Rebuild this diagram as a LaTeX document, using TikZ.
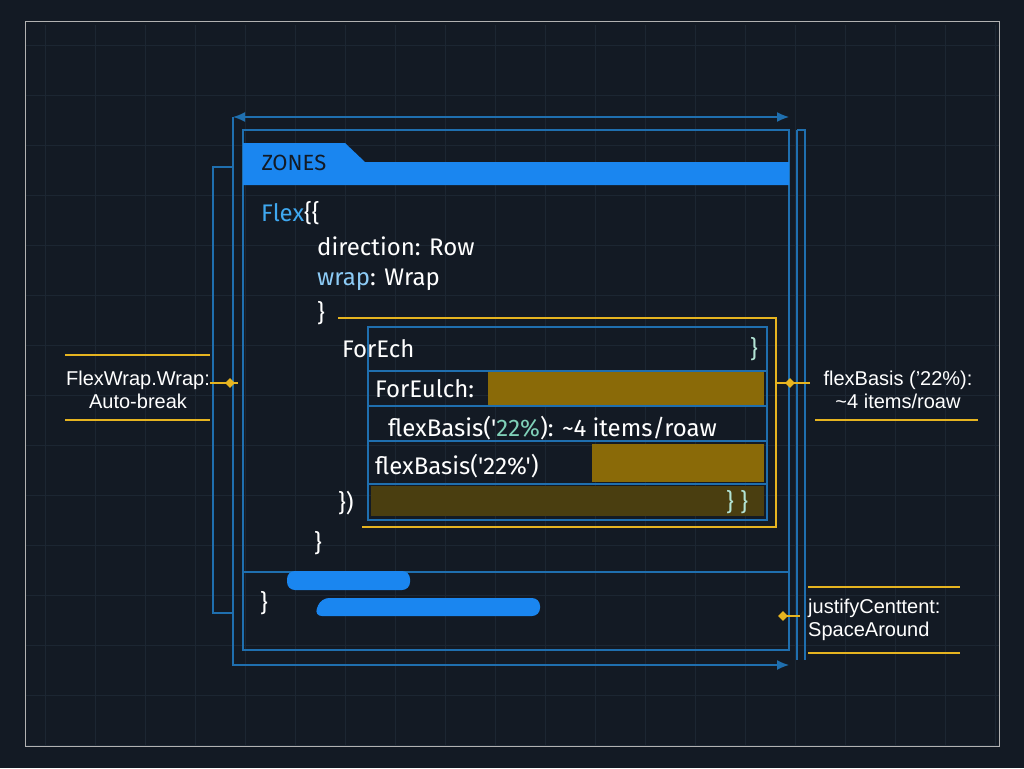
\documentclass[tikz,border=0pt]{standalone}
\usepackage{fontspec}
\setmainfont{Liberation Sans}
\newfontfamily\codef{Fira Sans}
\usetikzlibrary{arrows.meta,shapes.geometric}
\definecolor{bg}{HTML}{131A24}
\definecolor{gridc}{HTML}{1C2632}
\definecolor{bl}{HTML}{1A86F0}
\definecolor{lbl}{HTML}{1F6FAF}
\definecolor{yl}{HTML}{E6B420}
\definecolor{yf}{HTML}{8A6A08}
\definecolor{yd}{HTML}{4A3E10}
\definecolor{fx}{HTML}{3FA8F0}
\definecolor{gr}{HTML}{7FD0B8}
\tikzset{
 code/.style={font=\codef\fontsize{24}{26}\selectfont,text=white,anchor=west,inner sep=0},
 lab/.style={font=\fontsize{20}{23}\selectfont,text=white,align=center},
 bline/.style={draw=lbl,line width=1.5pt},
 yline/.style={draw=yl,line width=2.5pt},
 dot/.style={fill=yl,diamond,inner sep=0,minimum size=10pt},
}
\begin{document}
\begin{tikzpicture}[x=1pt,y=-1pt]
\fill[bg] (0,0) rectangle (1024,768);
\useasboundingbox (0,0) rectangle (1024,768);
\foreach \x in {45,95,...,1000} \draw[gridc,line width=0.6pt] (\x,25)--(\x,745);
\foreach \y in {45,95,...,745} \draw[gridc,line width=0.6pt] (25,\y)--(999,\y);
\draw[gray!60,line width=1pt] (25,22) rectangle (999,746);
% dimension lines
\draw[bline,{Latex[length=12pt,width=10pt]}-{Latex[length=12pt,width=10pt]}] (233,117) -- (789,117);
\draw[bline,-{Latex[length=12pt,width=10pt]}] (233,117) -- (233,665) -- (789,665);
\draw[bline] (243,130) rectangle (789,650);
\draw[bline] (797,130) -- (797,660);
\draw[bline] (797,130) -- (805,130) -- (805,660);
% header
\fill[bl] (243,143) -- (345,143) -- (365,162) -- (789,162) -- (789,185) -- (243,185) -- cycle;
\node[font=\codef\fontsize{22}{24}\selectfont,text=bg,anchor=west] (zones) at (258,163) {ZONES};
% left bracket
\draw[bline] (232,167) -- (213,167) -- (213,613) -- (232,613);
% code
\node[code] (c1) at (261,213) {\textcolor{fx}{Flex}\{\{};
\node[code] (c2) at (317,246) {direction: Row};
\node[code] (c3) at (317,280) {\textcolor{fx!60!white}{wrap}: Wrap};
\node[code] (c4) at (317,313) {\}};
% yellow box
\draw[yline] (338,318) -- (776,318) -- (776,527) -- (362,527);
\draw[bline] (368,327) rectangle (767,520);
\node[code] (fe) at (342,349) {ForEch};
\node[code,text=gr!60!white] at (750,349) {\}};
\fill[yf] (488,372) rectangle (764,405);
\fill[yf] (592,444) rectangle (764,482);
\fill[yd] (371,486) rectangle (764,516);
\draw[bline] (368,371) -- (767,371) (368,406) -- (767,406) (368,441) -- (767,441) (368,484) -- (767,484);
\node[code] (r1) at (375,389) {ForEulch:};
\node[code] (r2) at (388,428) {flexBasis('\textcolor{gr}{22\%}): \textasciitilde4 items/roaw};
\node[code] (r3) at (375,466) {flexBasis('22\%')};
\node[code,text=gr!60!white] at (726,502) {\} \}};
\node[code] at (338,503) {\})};
\node[code] at (314,543) {\}};
\draw[bline] (243,572) -- (789,572);
\fill[bl,rounded corners=8pt] (287,571) rectangle (410,590);
\node[code] at (260,603) {\}};
\fill[bl,rounded corners=8pt] (321,598) -- (540,598) -- (540,616) -- (314,616) -- cycle;
% left label
\draw[yline] (65,355) -- (210,355) (65,420) -- (210,420);
\node[lab] (ll) at (138,390) {FlexWrap.Wrap:\\Auto-break};
\draw[yl,line width=2pt] (210,383) -- (238,383);
\node[dot] at (230,383) {};
% right label
\draw[yline] (815,420) -- (978,420);
\node[lab] (rl) at (898,390) {flexBasis ('22\%):\\\textasciitilde4 items/roaw};
\draw[yl,line width=2pt] (776,383) -- (810,383);
\node[dot] at (790,383) {};
% justify label
\draw[yline] (808,587) -- (960,587) (808,653) -- (960,653);
\node[lab,align=left,anchor=west,inner sep=1pt] (jl) at (807,620) {justifyCenttent:\\SpaceAround};
\draw[yl,line width=2pt] (780,616) -- (800,616);
\node[dot] at (783,616) {};
\end{tikzpicture}
\end{document}
